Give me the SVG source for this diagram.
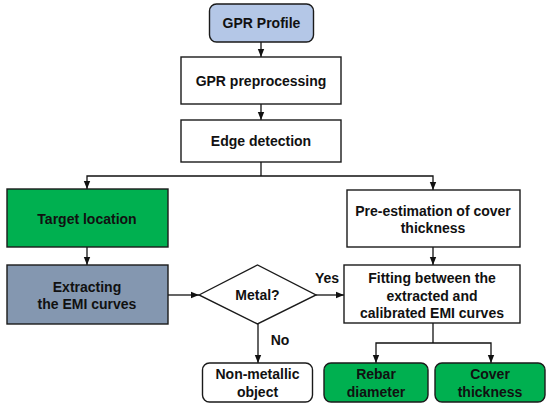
<svg xmlns="http://www.w3.org/2000/svg" width="550" height="410" viewBox="0 0 550 410">
<defs>
<marker id="ah" markerUnits="userSpaceOnUse" markerWidth="8" markerHeight="8" viewBox="0 0 8 8" refX="8" refY="4" orient="auto">
<path d="M0,0.8 L8,4 L0,7.2 Z" fill="#111"/>
</marker>
<style>
.b{stroke:#1a1a1a;stroke-width:1.4}
.t{font-family:"Liberation Sans",Arial,sans-serif;font-weight:bold;font-size:14px;fill:#111;text-anchor:middle}
.c{fill:none;stroke:#111;stroke-width:1.3}
.a{marker-end:url(#ah)}
</style>
</defs>
<rect width="550" height="410" fill="#fff"/>
<g id="connectors">
<line class="c a" x1="261" y1="42" x2="261" y2="57"/>
<line class="c a" x1="261" y1="104" x2="261" y2="120"/>
<polyline class="c" points="261,162 261,176"/>
<polyline class="c a" points="261,176 87,176 87,189"/>
<polyline class="c a" points="261,176 433,176 433,190"/>
<line class="c a" x1="87" y1="247" x2="87" y2="265"/>
<line class="c a" x1="433" y1="247" x2="433" y2="265"/>
<line class="c a" x1="168" y1="295" x2="199" y2="295"/>
<line class="c a" x1="316" y1="295" x2="344" y2="295"/>
<line class="c a" x1="258" y1="324" x2="258" y2="363"/>
<polyline class="c" points="433,323 433,343"/>
<polyline class="c a" points="433,343 376,343 376,363"/>
<polyline class="c a" points="433,343 491,343 491,363"/>
<text class="t" x="327" y="283" font-size="15">Yes</text>
<text class="t" x="280" y="344.5" font-size="15">No</text>
</g>
<g id="gpr-profile">
<rect class="b" x="209.5" y="4" width="104" height="38" rx="7" fill="#b4c7e7"/>
<text class="t" x="261.5" y="28">GPR Profile</text>
</g>
<g id="gpr-preprocessing">
<rect class="b" x="181" y="57" width="160" height="47" fill="#fff"/>
<text class="t" x="261" y="86">GPR preprocessing</text>
</g>
<g id="edge-detection">
<rect class="b" x="181" y="120" width="160" height="42" fill="#fff"/>
<text class="t" x="261" y="146">Edge detection</text>
</g>
<g id="target-location">
<rect class="b" x="7" y="189" width="161" height="58" fill="#00b050"/>
<text class="t" x="87" y="224">Target location</text>
</g>
<g id="pre-estimation">
<rect class="b" x="347" y="190" width="173" height="57" fill="#fff"/>
<text class="t" x="433" y="216">Pre-estimation of cover</text>
<text class="t" x="433" y="233">thickness</text>
</g>
<g id="extracting">
<rect class="b" x="7" y="265" width="161" height="59" fill="#8497b0"/>
<text class="t" x="87" y="292">Extracting</text>
<text class="t" x="87" y="309">the EMI curves</text>
</g>
<g id="metal">
<polygon class="b" points="199,295 257.5,265 316,295 257.5,324" fill="#fff"/>
<text class="t" x="257.5" y="300">Metal?</text>
</g>
<g id="fitting">
<rect class="b" x="344" y="265" width="176" height="58" fill="#fff"/>
<text class="t" x="432" y="283">Fitting between the</text>
<text class="t" x="432" y="300.5">extracted and</text>
<text class="t" x="432" y="318">calibrated EMI curves</text>
</g>
<g id="non-metallic">
<rect class="b" x="202.5" y="363" width="110" height="39" rx="7" fill="#fff"/>
<text class="t" x="257.5" y="379">Non-metallic</text>
<text class="t" x="257.5" y="396.5">object</text>
</g>
<g id="rebar-diameter">
<rect class="b" x="324" y="363" width="104" height="39" rx="7" fill="#00b050"/>
<text class="t" x="376" y="379">Rebar</text>
<text class="t" x="376" y="396.5">diameter</text>
</g>
<g id="cover-thickness">
<rect class="b" x="435" y="363" width="110" height="39" rx="7" fill="#00b050"/>
<text class="t" x="490" y="379">Cover</text>
<text class="t" x="490" y="396.5">thickness</text>
</g>
</svg>
